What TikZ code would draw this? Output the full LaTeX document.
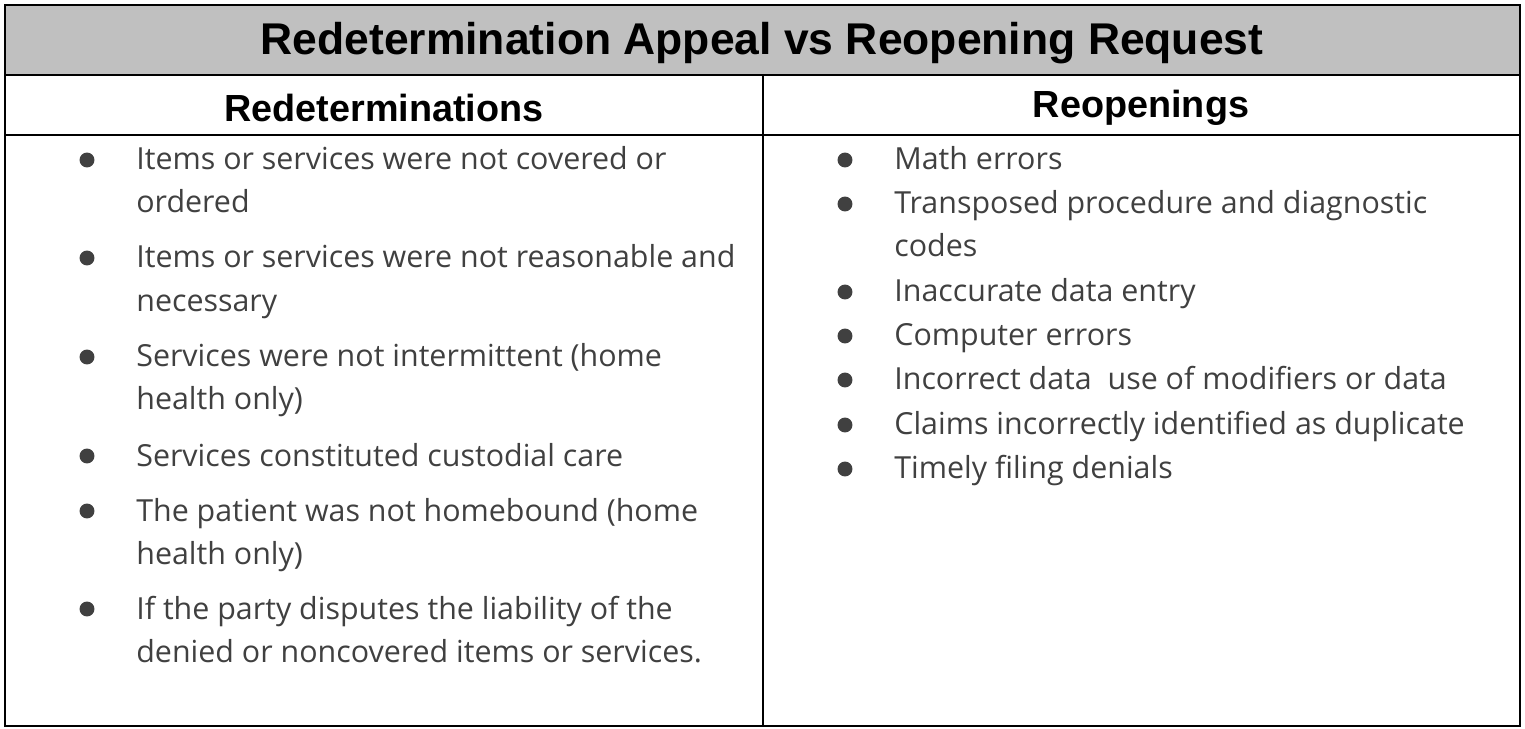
\documentclass[tikz,border=0pt]{standalone}
\usepackage{fontspec}
\setmainfont{Open Sans}
\newfontfamily\headfont{Liberation Sans}
\definecolor{bodygray}{HTML}{404040}
\definecolor{bandgray}{HTML}{C0C0C0}
\tikzset{
	entry/.style={anchor=base west,inner sep=0pt,text=bodygray,
		font=\fontsize{17.3}{24.4}\selectfont},
	dot/.style={circle,fill=bodygray,inner sep=0pt,minimum size=8.5pt},
	head/.style={font=\headfont\bfseries\fontsize{21.5}{24}\selectfont},
	rule/.style={draw=black,line width=0.6pt}
}
\begin{document}
\begin{tikzpicture}[x=0.02cm,y=-0.02cm]
	\useasboundingbox (0,0) rectangle (1525,729);
	\fill[bandgray] (5,5) rectangle (1520,75);
	\draw[rule] (5,5) rectangle (1520,726);
	\draw[rule] (5,75) -- (1520,75);
	\draw[rule] (5,135) -- (1520,135);
	\draw[rule] (763,75) -- (763,726);

	\node[font=\headfont\bfseries\fontsize{25.3}{28}\selectfont] (title) at (762,43) {Redetermination Appeal vs Reopening Request};
	\node[head] (lhead) at (384,108) {Redeterminations};
	\node[head] (rhead) at (1141,108) {Reopenings};

	% left column
	\node[dot] (lb1) at (87,160) {};
	\node[entry] (l1a) at (136,170) {Items or services were not covered or};
	\node[entry] (l1b) at (136,213) {ordered};
	\node[dot] (lb2) at (87,258) {};
	\node[entry] (l2a) at (136,268) {Items or services were not reasonable and};
	\node[entry] (l2b) at (136,312) {necessary};
	\node[dot] (lb3) at (87,357) {};
	\node[entry] (l3a) at (136,367) {Services were not intermittent (home};
	\node[entry] (l3b) at (136,410) {health only)};
	\node[dot] (lb4) at (87,456) {};
	\node[entry] (l4) at (136,466) {Services constituted custodial care};
	\node[dot] (lb5) at (87,511) {};
	\node[entry] (l5a) at (136,521) {The patient was not homebound (home};
	\node[entry] (l5b) at (136,564) {health only)};
	\node[dot] (lb6) at (87,609) {};
	\node[entry] (l6a) at (136,619) {If the party disputes the liability of the};
	\node[entry] (l6b) at (136,662) {denied or noncovered items or services.};

	% right column
	\node[dot] (rb1) at (845,160) {};
	\node[entry] (r1) at (894,170) {Math errors};
	\node[dot] (rb2) at (845,204) {};
	\node[entry] (r2a) at (894,214) {Transposed procedure and diagnostic};
	\node[entry] (r2b) at (894,257) {codes};
	\node[dot] (rb3) at (845,292) {};
	\node[entry] (r3) at (894,302) {Inaccurate data entry};
	\node[dot] (rb4) at (845,336) {};
	\node[entry] (r4) at (894,346) {Computer errors};
	\node[dot] (rb5) at (845,380) {};
	\node[entry] (r5) at (894,390) {Incorrect data\ \ use of modifiers or data};
	\node[dot] (rb6) at (845,425) {};
	\node[entry] (r6) at (894,435) {Claims incorrectly identified as duplicate};
	\node[dot] (rb7) at (845,469) {};
	\node[entry] (r7) at (894,479) {Timely filing denials};
\end{tikzpicture}
\end{document}
